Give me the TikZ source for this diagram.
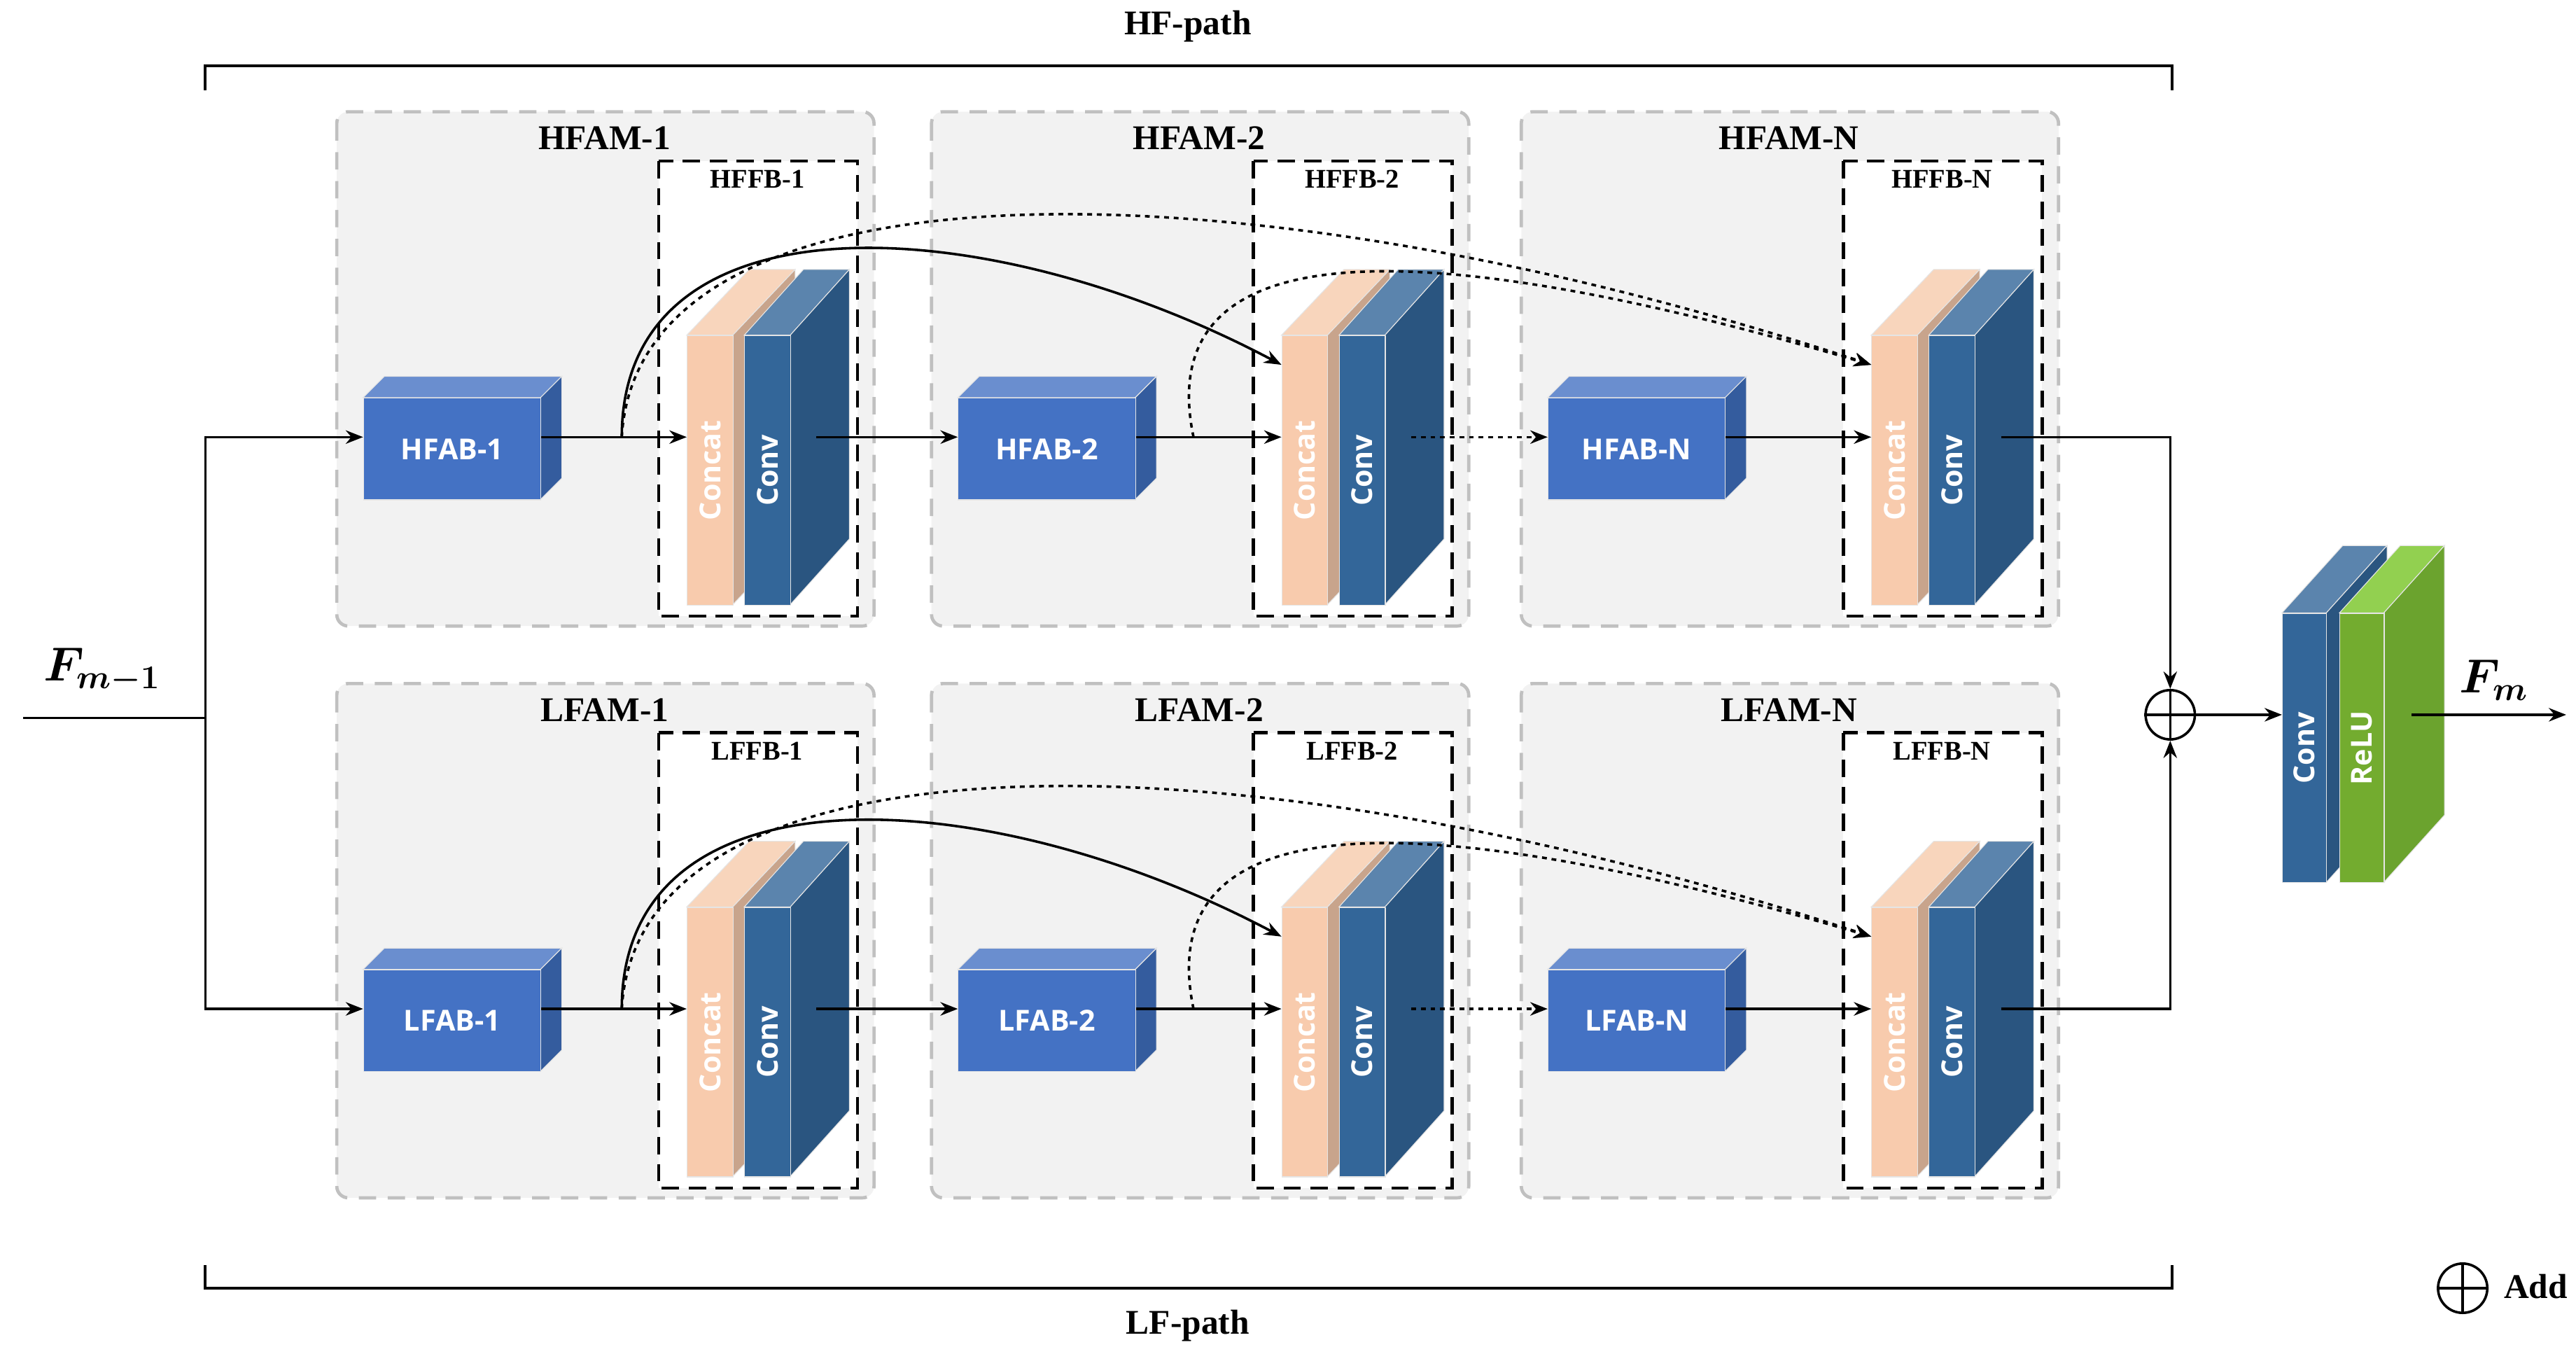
\documentclass[tikz,border=0pt]{standalone}
\usepackage{fontspec}
\usepackage{amsmath,bm}
\setmainfont{Liberation Serif}
\newfontfamily\blkfont{Open Sans}
\usetikzlibrary{arrows.meta,calc}
\definecolor{abF}{HTML}{4472C4}\definecolor{abT}{HTML}{6A8ECF}\definecolor{abS}{HTML}{345C9E}
\definecolor{caF}{HTML}{F8CBAD}\definecolor{caT}{HTML}{F8D5BC}\definecolor{caS}{HTML}{C8A48C}
\definecolor{coF}{HTML}{336699}\definecolor{coT}{HTML}{5B84AD}\definecolor{coS}{HTML}{2A5580}
\definecolor{reF}{HTML}{73AC2F}\definecolor{reT}{HTML}{92D050}\definecolor{reS}{HTML}{6BA32E}
\definecolor{modbg}{HTML}{F2F2F2}\definecolor{modln}{HTML}{C0C0C0}
\tikzset{
 modbox/.style={draw=modln,fill=modbg,line width=1.7pt,dash pattern=on 9pt off 6pt,rounded corners=6pt},
 fbbox/.style={draw=black,fill=white,line width=1.7pt,dash pattern=on 9pt off 5pt},
 modtitle/.style={font=\fontsize{18}{20}\selectfont\bfseries},
 fbtitle/.style={font=\fontsize{14}{16}\selectfont\bfseries,fill=white,inner sep=1pt},
 blklabel/.style={font=\blkfont\fontsize{15}{17}\selectfont\bfseries,text=white},
 conn/.style={line width=1.3pt,-{Stealth[length=9pt,width=7pt]}},
 plainconn/.style={line width=1.3pt},
 dotconn/.style={line width=1.3pt,dash pattern=on 2.5pt off 2.5pt,-{Stealth[length=9pt,width=7pt]}},
}
% #1 name, #2 x1, #3 y1, #4 x2, #5 y2, #6 dx, #7 dy, #8 prefix, #9 label options
\newcommand\myblk[9]{%
 \fill[#8T,draw=white!80!gray,line width=0.4pt] (#2,#3)--({#2+#6},{#3-#7})--({#4+#6},{#3-#7})--(#4,#3)--cycle;
 \fill[#8S,draw=white!80!gray,line width=0.4pt] (#4,#3)--({#4+#6},{#3-#7})--({#4+#6},{#5-#7})--(#4,#5)--cycle;
 \pgfmathsetmacro\mybw{((#4)-(#2))*0.03}%
 \pgfmathsetmacro\mybh{((#5)-(#3))*0.03}%
 \node[fill=#8F,draw=white!80!gray,line width=0.4pt,inner sep=0pt,anchor=north west,minimum width=\mybw cm,minimum height=\mybh cm] (#1) at (#2,#3) {};
 \node[blklabel,#9] at (#1.center) {\myblklabel};}
\newcommand\myblklabel{}
\newcommand\mylbl[1]{\renewcommand\myblklabel{#1}}
\begin{document}
\begin{tikzpicture}[x=0.03cm,y=-0.03cm]
\useasboundingbox (0,0) rectangle (1568,828);
% brackets
\node[modtitle] (hfp) at (723,16) {HF-path};
\draw[line width=1.5pt] (125,55)--(125,40)--(1322,40)--(1322,55);
\node[modtitle] (lfp) at (723,807) {LF-path};
\draw[line width=1.5pt] (125,770)--(125,784)--(1322,784)--(1322,770);
% modules
\foreach \ox/\k in {0/1,362/2,721/N}{
 \foreach \oy/\P in {0/H,348/L}{
  \draw[modbox] ({205+\ox},{68+\oy}) rectangle ({532+\ox},{381+\oy});
  \node[modtitle] at ({368+\ox},{84+\oy}) {\P FAM-\k};
  \draw[fbbox] ({401+\ox},{98+\oy}) rectangle ({522+\ox},{375+\oy});
  \node[fbtitle] at ({461+\ox},{109+\oy}) {\P FFB-\k};
  \mylbl{\P FAB-\k}\myblk{ab\P\k}{221+\ox}{242+\oy}{329+\ox}{304+\oy}{13}{13}{ab}{}
  \mylbl{Concat}\myblk{ca\P\k}{418+\ox}{204+\oy}{446+\ox}{368+\oy}{38}{40}{ca}{rotate=90,yshift=0pt}
  \mylbl{Conv}\myblk{co\P\k}{453+\ox}{204+\oy}{481+\ox}{368+\oy}{36}{40}{co}{rotate=90}
  \coordinate (out\P\k) at ({497+\ox},{266+\oy});
 }}
% final blocks
\mylbl{Conv}\myblk{fconv}{1389}{373}{1416}{537}{37}{41}{co}{rotate=90}
\mylbl{ReLU}\myblk{frelu}{1424}{373}{1451}{537}{37}{41}{re}{rotate=90}
% input
\node[font=\fontsize{24}{28}\selectfont] (fin) at (62,408) {$\bm{F_{m-1}}$};
\coordinate (in0) at (14,437);
\coordinate (in1) at (125,437);
\draw[plainconn] (in0)--(in1);
\foreach \P in {H,L}{
 \draw[conn] (in1) |- (ab\P1.west |- out\P1);
 \draw[conn] (ab\P1.east |- out\P1) -- (ca\P1.west |- out\P1);
 \draw[conn] (out\P1) -- (ab\P2.west |- out\P1);
 \draw[conn] (ab\P2.east |- out\P1) -- (ca\P2.west |- out\P1);
 \draw[dotconn] (out\P2) -- (ab\P N.west |- out\P2);
 \draw[conn] (ab\P N.east |- out\P1) -- (ca\P N.west |- out\P1);
 \coordinate (b1\P) at ($(ab\P1.east |- out\P1)+(49,0)$);
 \coordinate (b2\P) at ($(ab\P2.east |- out\P1)+(35,0)$);
 \coordinate (t2\P) at ($(ca\P2.north west)+(0,18)$);
 \coordinate (tN\P) at ($(ca\P N.north west)+(0,18)$);
 \draw[conn] (b1\P) .. controls ($(b1\P)+(0,-150)$) and ($(b1\P)+(220,-140)$) .. (t2\P);
 \draw[dotconn] (b1\P) .. controls ($(b1\P)+(10,-175)$) and ($(b1\P)+(380,-170)$) .. (tN\P);
 \draw[dotconn] (b2\P) .. controls ($(b2\P)+(-25,-120)$) and ($(b2\P)+(120,-130)$) .. (tN\P);
}
\node[draw,circle,line width=1.3pt,minimum size=0.9cm,inner sep=0pt] (add) at (1321,435) {};
\draw[line width=1.3pt] (add.north)--(add.south) (add.west)--(add.east);
\draw[conn] (outHN) -| (add.north);
\draw[conn] (outLN) -| (add.south);
\draw[conn] (add.east) -- (fconv.west |- add.east);
\coordinate (fo) at (1468,435);
\coordinate (fe) at (1562,435);
\draw[conn] (fo) -- (fe);
\node[font=\fontsize{24}{28}\selectfont] (fm) at (1518,414) {$\bm{F_{m}}$};
% legend
\node[draw,circle,line width=1.3pt,minimum size=0.9cm,inner sep=0pt] (leg) at (1499,784) {};
\draw[line width=1.3pt] (leg.north)--(leg.south) (leg.west)--(leg.east);
\node[modtitle,anchor=west] (legt) at (1520,783) {Add};
\end{tikzpicture}
\end{document}
